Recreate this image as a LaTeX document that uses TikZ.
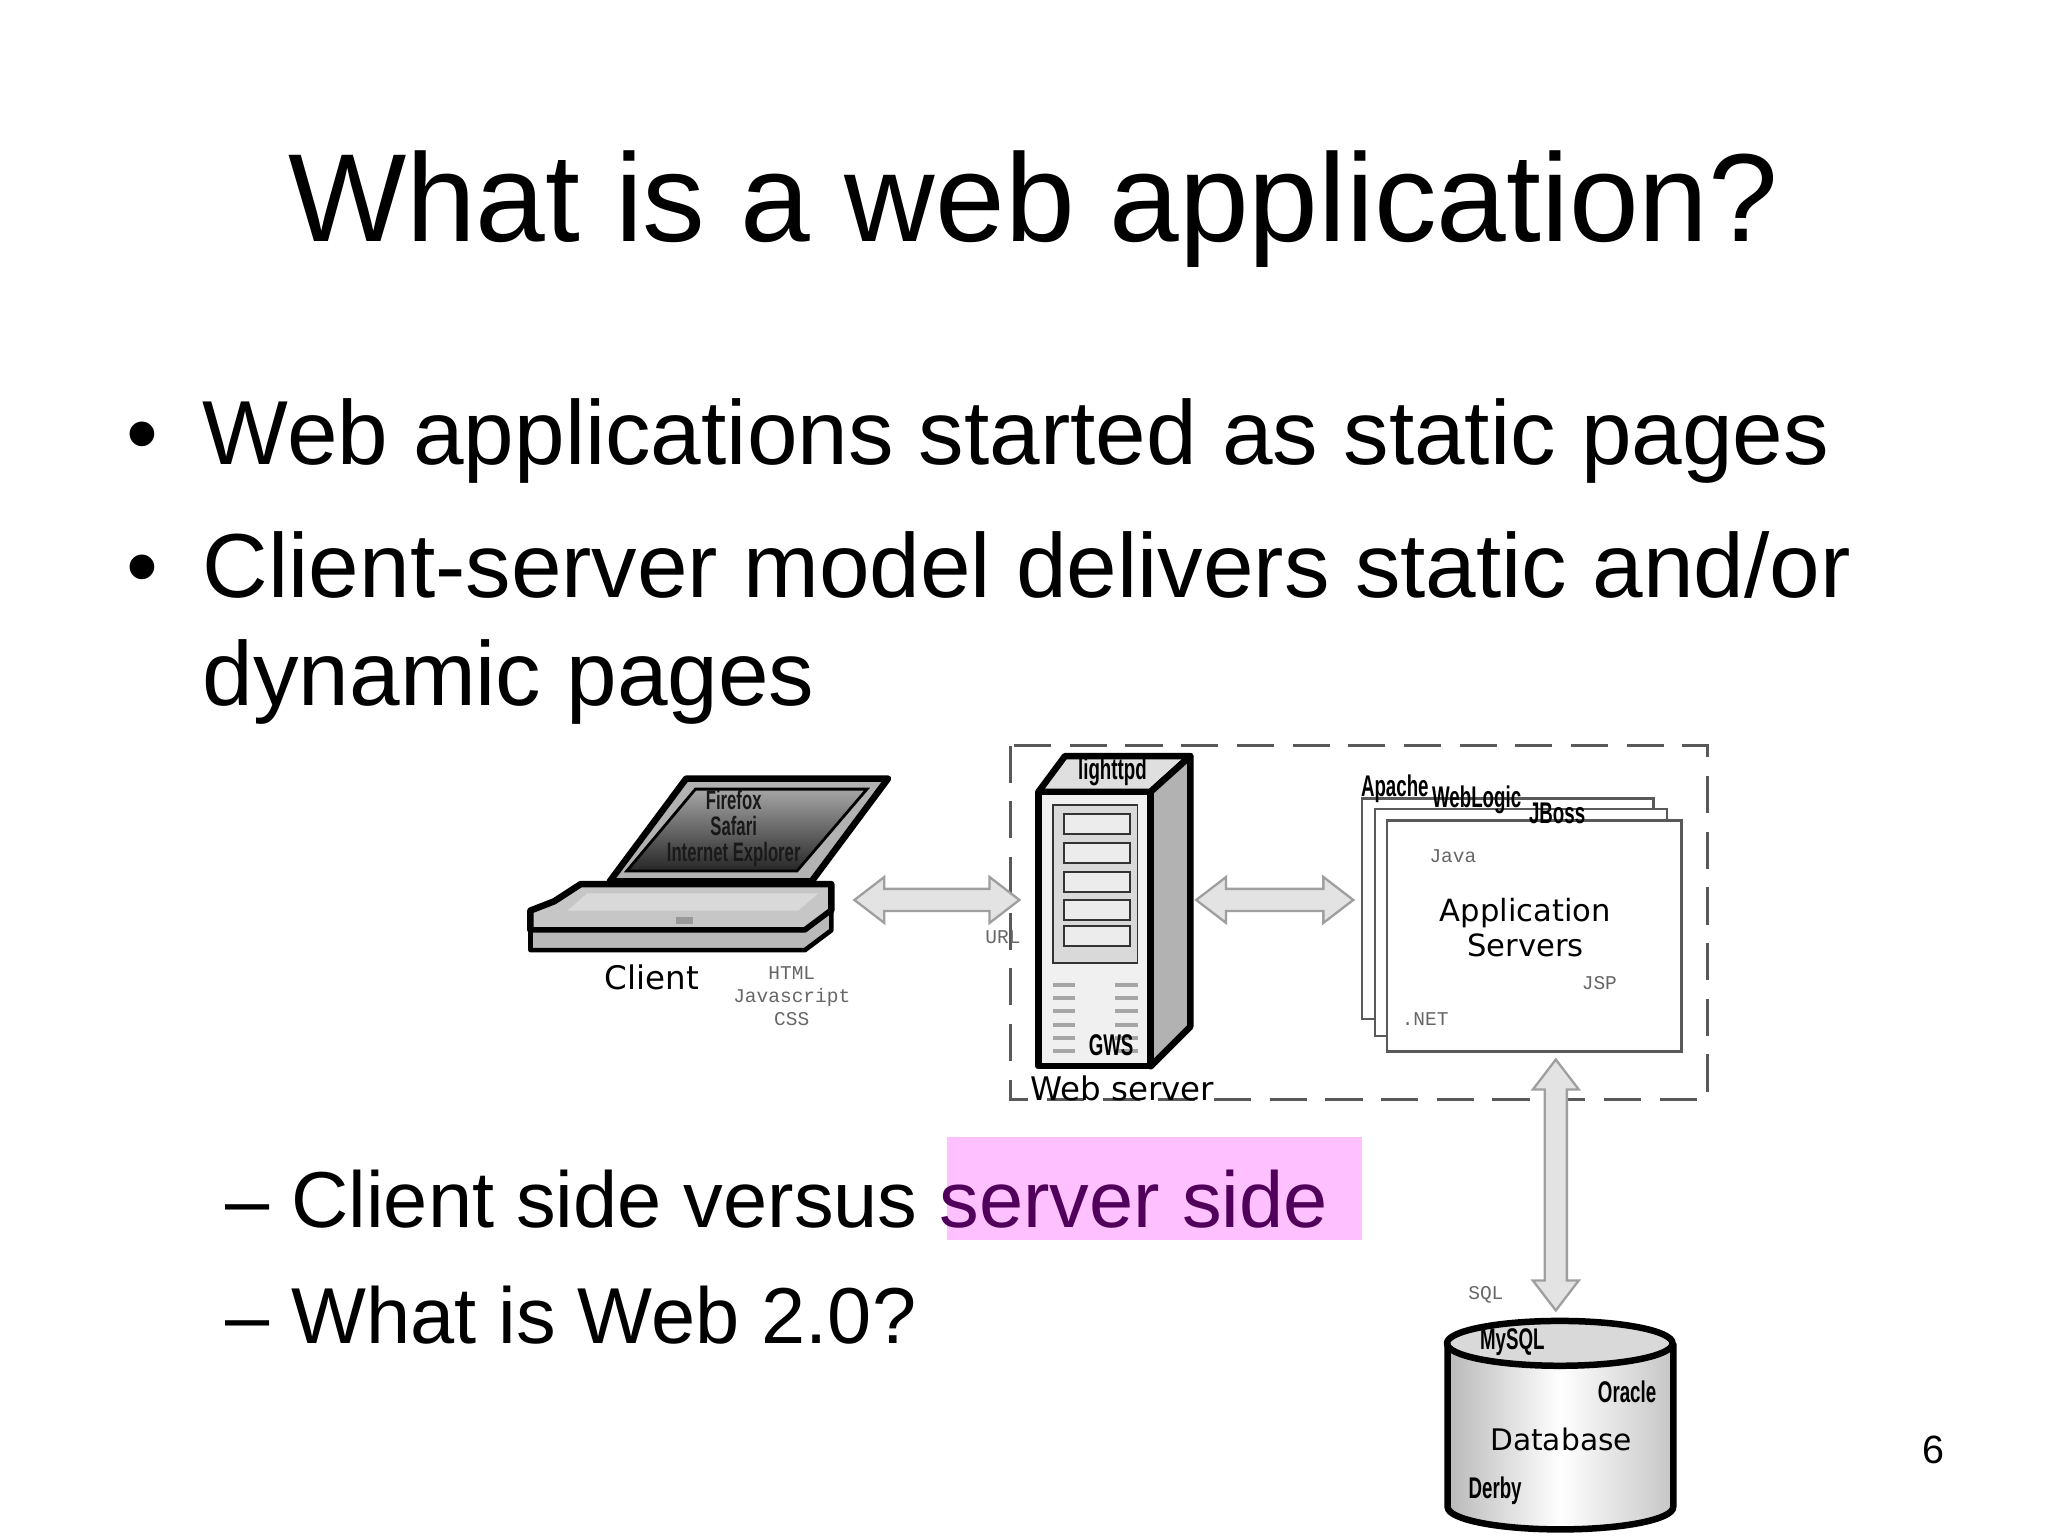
\documentclass[tikz,border=0pt]{standalone}
\usepackage{fontspec}
\setmainfont{Liberation Sans}
\newfontfamily\monof{Liberation Mono}
\newfontfamily\dejav{DejaVu Sans}
\usetikzlibrary{shapes.arrows,shapes.geometric}
\definecolor{hlpink}{RGB}{255,192,255}
\definecolor{hltext}{RGB}{80,0,90}
\newcommand{\cnd}[1]{\scalebox{0.72}[1.15]{#1}}
\begin{document}
\begin{tikzpicture}[x=0.01cm,y=-0.01cm,
  bigtxt/.style={anchor=base west,font=\fontsize{19.6}{24}\selectfont,inner sep=0},
  subtxt/.style={anchor=base west,font=\fontsize{17.1}{20}\selectfont,inner sep=0},
  cond/.style={font=\fontsize{5.6}{6.4}\selectfont\bfseries,inner sep=0},
  mono/.style={font=\monof\fontsize{4.2}{5}\selectfont,text=gray!80!black,inner sep=0},
  lbl/.style={font=\dejav\fontsize{6.2}{7.5}\selectfont,inner sep=0},
  dblarrow/.style={double arrow,draw=gray!75,fill=gray!22,line width=0.5pt,inner xsep=0,inner ysep=0.075cm,double arrow head extend=0.09cm,double arrow tip angle=75},
  dev/.style={draw=black,line width=1.4pt,line join=round},
  bay/.style={draw=gray!40!black,fill=gray!15,line width=0.4pt}]
\useasboundingbox (0,0) rectangle (1552,1164);
\fill[white] (0,0) rectangle (1552,1164);
% title and bullets
\node[font=\fontsize{27}{32}\selectfont,anchor=base] (title) at (783,183) {What is a web application?};
\node[bigtxt] (b1d) at (95,352) {•};
\node[bigtxt] (b1) at (153,352) {Web applications started as static pages};
\node[bigtxt] (b2d) at (95,453) {•};
\node[bigtxt] (b2) at (153,453) {Client-server model delivers static and/or};
\node[bigtxt] (b3) at (153,535) {dynamic pages};
\fill[hlpink] (718,862) rectangle (1032,940);
\node[subtxt] (s1) at (170,930) {– Client side versus \textcolor{hltext}{server side}};
\node[subtxt] (s2) at (170,1018) {– What is Web 2.0?};
\node[font=\fontsize{8.5}{10}\selectfont] (pg) at (1465,1099) {6};
% dashed frame
\draw[gray!70!black,line width=0.6pt,dash pattern=on 8pt off 4pt] (766,565) rectangle (1294,833);
% laptop
\filldraw[dev,fill=gray!60] (462,668) -- (520,590) -- (673,590) -- (615,668) -- cycle;
\shade[top color=gray!70,bottom color=black!85] (475,660) -- (527,598) -- (657,598) -- (604,660) -- cycle;
\draw[black,line width=0.6pt] (475,660) -- (527,598) -- (657,598) -- (604,660) -- cycle;
\node[cond,text=black!90,align=center,font=\fontsize{5}{5.6}\selectfont\bfseries] (browsers) at (556,628) {\cnd{Firefox}\\\cnd{Safari}\\\cnd{Internet Explorer}};
\fill[white] (510,668) rectangle (580,676);
\filldraw[dev,fill=gray!45] (420,683) -- (440,670) -- (630,670) -- (630,690) -- (610,705) -- (402,705) -- (402,690) -- cycle;
\fill[gray!30] (430,690) -- (445,677) -- (620,677) -- (605,690) -- cycle;
\filldraw[dev,line width=1pt,fill=gray!55] (402,705) -- (402,720) -- (610,720) -- (630,705) -- (630,690) -- (610,705) -- cycle;
\fill[gray!80] (512,695) rectangle (525,700);
\node[lbl,font=\dejav\fontsize{7}{8}\selectfont] (client) at (494,741) {Client};
\node[mono,align=center] (html) at (600,755) {HTML\\Javascript\\CSS};
% server tower
\filldraw[dev,fill=gray!25] (787,600) -- (807,573) -- (902,573) -- (872,600) -- cycle;
\filldraw[dev,fill=gray!60] (872,600) -- (902,573) -- (902,778) -- (872,808) -- cycle;
\filldraw[dev,fill=gray!12] (787,600) rectangle (872,808);
\node[cond] (lighttpd) at (843,585) {\cnd{lighttpd}};
\draw[bay,fill=gray!30] (798,610) rectangle (862,730);
\foreach \y in {617,639,661,682,702}{\draw[bay] (806,\y) rectangle (856,\y+15);}
\foreach \y in {745,755,765,775,785,795}{\fill[gray!70] (798,\y) rectangle (815,\y+3); \fill[gray!70] (845,\y) rectangle (862,\y+3);}
\node[cond] (gws) at (842,792) {\cnd{GWS}};
\node[lbl,font=\dejav\fontsize{7}{8}\selectfont,anchor=west] (web) at (780,825) {Web server};
\node[mono] (url) at (760,710) {URL};
% application servers
\draw[gray!70!black,fill=white,line width=0.5pt] (1032,605) rectangle (1253,772);
\draw[gray!70!black,fill=white,line width=0.5pt] (1042,613) rectangle (1263,785);
\draw[gray!70!black,fill=white,line width=0.6pt] (1051,622) rectangle (1274,797);
\node[cond] (apache) at (1057,598) {\cnd{Apache}};
\node[cond] (weblogic) at (1119,606) {\cnd{WebLogic}};
\node[cond] (jboss) at (1180,616) {\cnd{JBoss}};
\node[mono] (java) at (1101,649) {Java};
\node[lbl,align=center,font=\dejav\fontsize{6.6}{7.6}\selectfont] (appsrv) at (1156,703) {Application\\Servers};
\node[mono] (jsp) at (1212,745) {JSP};
\node[mono] (net) at (1080,772) {.NET};
% database
\shade[left color=gray!55,right color=gray!45,middle color=white] (1097,1018) -- (1097,1142) arc[start angle=180,end angle=360,x radius=85.5,y radius=-17] -- (1268,1018) -- cycle;
\draw[dev,fill=gray!30] (1182,1018) ellipse[x radius=85.5,y radius=17];
\draw[dev] (1097,1018) -- (1097,1142) arc[start angle=180,end angle=360,x radius=85.5,y radius=-17] -- (1268,1018);
\node[cond] (mysql) at (1146,1017) {\cnd{MySQL}};
\node[cond] (oracle) at (1233,1055) {\cnd{Oracle}};
\node[lbl,font=\dejav\fontsize{6.4}{7.5}\selectfont] (dbl) at (1183,1091) {Database};
\node[cond] (derby) at (1133,1130) {\cnd{Derby}};
\node[mono] (sql) at (1126,981) {SQL};
% arrows between components
\node[dblarrow,minimum height=1.25cm] (a1) at (710,682) {};
\node[dblarrow,minimum height=1.19cm] (a2) at (966,682) {};
\node[dblarrow,minimum height=1.9cm,rotate=90] (a3) at (1179,898) {};
\end{tikzpicture}
\end{document}
